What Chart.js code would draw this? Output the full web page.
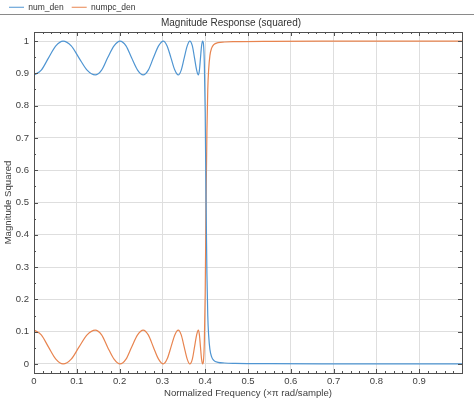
<!DOCTYPE html>
<html>
<head>
<meta charset="utf-8">
<script src="https://cdn.jsdelivr.net/npm/chart.js@4/dist/chart.umd.min.js"></script>
<style>
  html, body { margin: 0; padding: 0; background: #ffffff; }
  #wrap { width: 474px; height: 403px; }
</style>
</head>
<body>
<div id="wrap"><canvas id="resp" width="474" height="403"></canvas></div>
<script>
// Normalized frequency (x pi rad/sample)
const freq = [
    0.000, 0.017, 0.034, 0.051, 0.068, 0.087, 0.105, 0.124, 0.143,
    0.158, 0.172, 0.187, 0.201, 0.215, 0.228, 0.242, 0.255,
    0.267, 0.279, 0.291, 0.302, 0.311, 0.320, 0.329, 0.337,
    0.344, 0.351, 0.358, 0.364, 0.370, 0.375, 0.380, 0.384,
    0.3865, 0.389, 0.3915, 0.394, 0.396, 0.398, 0.400, 0.402,
    0.404, 0.406, 0.408, 0.411, 0.415, 0.420, 0.430, 0.445,
    0.470, 0.550, 0.700, 1.000
];
// Magnitude squared, num_den
const numDen = [
    0.895, 0.910, 0.948, 0.985, 1.000, 0.985, 0.948, 0.910, 0.895,
    0.910, 0.948, 0.985, 1.000, 0.985, 0.948, 0.910, 0.895,
    0.910, 0.948, 0.985, 1.000, 0.985, 0.948, 0.910, 0.895,
    0.910, 0.948, 0.985, 1.000, 0.985, 0.948, 0.910, 0.895,
    0.910, 0.948, 0.985, 1.000, 0.990, 0.930, 0.780, 0.500,
    0.280, 0.150, 0.090, 0.045, 0.022, 0.011, 0.005, 0.003,
    0.002, 0.001, 0.0005, 0.000
];
// Magnitude squared, numpc_den (power complementary)
const numpcDen = [
    0.105, 0.090, 0.052, 0.015, 0.000, 0.015, 0.052, 0.090, 0.105,
    0.090, 0.052, 0.015, 0.000, 0.015, 0.052, 0.090, 0.105,
    0.090, 0.052, 0.015, 0.000, 0.015, 0.052, 0.090, 0.105,
    0.090, 0.052, 0.015, 0.000, 0.015, 0.052, 0.090, 0.105,
    0.090, 0.052, 0.015, 0.000, 0.010, 0.070, 0.220, 0.500,
    0.720, 0.850, 0.910, 0.955, 0.978, 0.989, 0.995, 0.997,
    0.998, 0.999, 0.9995, 1.000
];
const xTicks = [0, 0.1, 0.2, 0.3, 0.4, 0.5, 0.6, 0.7, 0.8, 0.9];
const yTicks = [0, 0.1, 0.2, 0.3, 0.4, 0.5, 0.6, 0.7, 0.8, 0.9, 1];

const textColor = '#404040';
const fmt = v => String(Math.round(v * 10) / 10);

// légende compacte : hauteur fixe, contenu remonté (le clip de la légende reste sur sa boîte)
const legendPatch = {
    id: 'legendPatch',
    afterInit(chart) {
        const lg = chart.legend;
        const fit = lg.fit, inner = lg._draw;
        lg.fit = function () { fit.call(this); this.height = 14; };
        lg._draw = function () {
            const ctx = this.ctx;
            ctx.save();
            ctx.translate(1, -5);
            inner.call(this);
            ctx.restore();
        };
    }
};

// cadre + petites graduations vers l'intérieur + trait sous la légende
const framePlugin = {
    id: 'frame',
    afterDatasetsDraw(chart) {
        const { ctx, chartArea: a, scales } = chart;
        ctx.save();
        ctx.strokeStyle = '#505050';
        ctx.lineWidth = 1;
        ctx.beginPath();
        for (let i = 0; i <= 50; i++) {
            const v = i * 0.02;
            const px = Math.round(scales.x.getPixelForValue(v)) + 0.5;
            const len = i % 5 === 0 ? 4 : 2;
            ctx.moveTo(px, a.bottom); ctx.lineTo(px, a.bottom - len);
            ctx.moveTo(px, a.top); ctx.lineTo(px, a.top + len);
        }
        for (let i = 0; i <= 20; i++) {
            const v = i * 0.05;
            const py = Math.round(scales.y.getPixelForValue(v)) + 0.5;
            const len = i % 2 === 0 ? 4 : 2;
            ctx.moveTo(a.left, py); ctx.lineTo(a.left + len, py);
            ctx.moveTo(a.right, py); ctx.lineTo(a.right - len, py);
        }
        ctx.stroke();
        ctx.strokeRect(Math.round(a.left) + 0.5, Math.round(a.top) + 0.5,
            Math.round(a.right - a.left), Math.round(a.bottom - a.top));
        // séparateur sous la légende
        const ly = Math.round(chart.legend.bottom) + 0.5;
        ctx.strokeStyle = '#8a8a8a';
        ctx.beginPath();
        ctx.moveTo(0, ly); ctx.lineTo(chart.width, ly);
        ctx.stroke();
        ctx.restore();
    }
};

const toPts = ys => freq.map((f, i) => ({ x: f, y: ys[i] }));

new Chart(document.getElementById('resp'), {
    type: 'line',
    data: {
        datasets: [
            {
                label: 'num_den', data: toPts(numDen),
                borderColor: '#4f95d2', backgroundColor: '#4f95d2',
                borderWidth: 1.2, pointRadius: 0, cubicInterpolationMode: 'monotone'
            },
            {
                label: 'numpc_den', data: toPts(numpcDen),
                borderColor: '#e8844f', backgroundColor: '#e8844f',
                borderWidth: 1.2, pointRadius: 0, cubicInterpolationMode: 'monotone'
            }
        ]
    },
    options: {
        responsive: false,
        devicePixelRatio: 1,
        animation: false,
        layout: { padding: { left: 0, right: 12, top: 0, bottom: 0 } },
        plugins: {
            legend: {
                position: 'top', align: 'start', weight: 3000,
                labels: {
                    boxWidth: 15, boxHeight: 1, padding: 8,
                    font: { family: 'Liberation Sans', size: 8.5 }, color: '#333',
                    generateLabels: chart => Chart.defaults.plugins.legend.labels
                        .generateLabels(chart).map(l => ({ ...l, lineWidth: 0 }))
                }
            },
            title: {
                display: true, text: 'Magnitude Response (squared)', color: '#333',
                font: { family: 'Liberation Sans', size: 10, weight: 'normal' },
                padding: { top: 3, bottom: 3 }
            },
            tooltip: { enabled: false }
        },
        scales: {
            x: {
                type: 'linear', min: 0, max: 1,
                afterBuildTicks: s => { s.ticks = xTicks.map(v => ({ value: v })); },
                afterFit: s => { s.height = 30; },
                ticks: {
                    color: textColor, padding: 3, maxRotation: 0, autoSkip: false,
                    font: { family: 'Liberation Sans', size: 9.5 }, callback: fmt
                },
                grid: { color: '#dedede', drawTicks: false },
                border: { display: false },
                title: {
                    display: true, text: 'Normalized Frequency (×π rad/sample)', color: textColor,
                    font: { family: 'Liberation Sans', size: 9.6 }, padding: { top: 0, bottom: 4 }
                }
            },
            y: {
                min: -0.028, max: 1.028,
                afterBuildTicks: s => { s.ticks = yTicks.map(v => ({ value: v })); },
                afterFit: s => { s.width = 34; },
                ticks: {
                    color: textColor, padding: 5,
                    font: { family: 'Liberation Sans', size: 9.5 }, callback: fmt
                },
                grid: { color: '#dedede', drawTicks: false },
                border: { display: false },
                title: {
                    display: true, text: 'Magnitude Squared', color: textColor,
                    font: { family: 'Liberation Sans', size: 9.6 }, padding: { top: 3, bottom: 0 }
                }
            }
        }
    },
    plugins: [legendPatch, framePlugin]
});
</script>
</body>
</html>
